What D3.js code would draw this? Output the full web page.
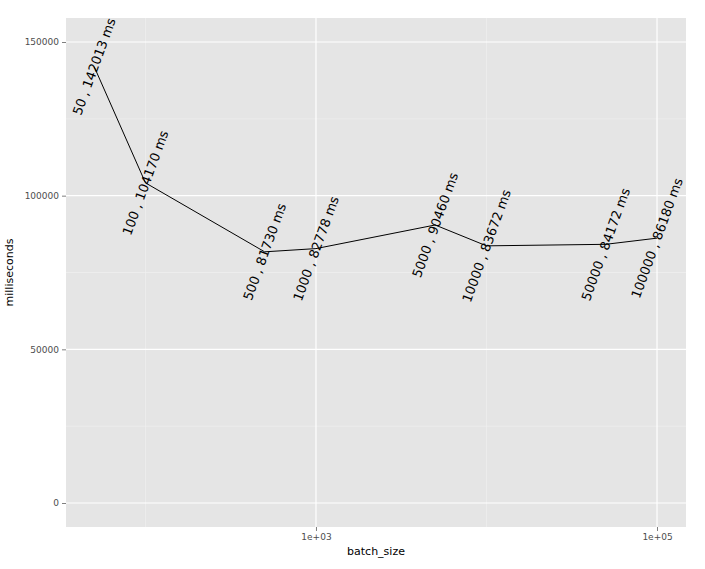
<!DOCTYPE html>
<html><head><meta charset="utf-8">
<script src="https://cdn.jsdelivr.net/npm/d3@7"></script>
<style>body{margin:0;background:#fff}text{font-family:"DejaVu Sans",sans-serif}</style>
</head><body><div id="chart"></div>
<script>
var batchSizes = [50, 100, 500, 1000, 5000, 10000, 50000, 100000];
var millis = [142013, 104170, 81730, 82778, 90460, 83672, 84172, 86180];
var yTicks = [0, 50000, 100000, 150000];
var yMinor = [25000, 75000, 125000];
var xTicks = [1e3, 1e5];
var xMinor = [1e2, 1e4];

var svgWidth = 705, svgHeight = 569;
var margin = {top: 18, right: 19, bottom: 42, left: 66};
var width = svgWidth - margin.left - margin.right;
var height = svgHeight - margin.top - margin.bottom;

var svg = d3.select("#chart").append("svg")
    .attr("width", svgWidth).attr("height", svgHeight);
var g = svg.append("g").attr("transform", `translate(${margin.left},${margin.top})`);

var x = d3.scaleLog().domain([Math.pow(10, 1.534), Math.pow(10, 5.170)]).range([0, width]);
var y = d3.scaleLinear().domain([-7809, 157810]).range([height, 0]);

g.append("rect").attr("width", width).attr("height", height).attr("fill", "#e5e5e5");

// grid
xMinor.forEach(v => g.append("line").attr("x1", x(v)).attr("x2", x(v)).attr("y1", 0).attr("y2", height).attr("stroke", "#f2f2f2").attr("stroke-width", 0.6));
yMinor.forEach(v => g.append("line").attr("y1", y(v)).attr("y2", y(v)).attr("x1", 0).attr("x2", width).attr("stroke", "#f2f2f2").attr("stroke-width", 0.6));
xTicks.forEach(v => g.append("line").attr("x1", x(v)).attr("x2", x(v)).attr("y1", 0).attr("y2", height).attr("stroke", "#fff").attr("stroke-width", 1.2));
yTicks.forEach(v => g.append("line").attr("y1", y(v)).attr("y2", y(v)).attr("x1", 0).attr("x2", width).attr("stroke", "#fff").attr("stroke-width", 1.2));

// axes
var xAxis = g.append("g").attr("transform", `translate(0,${height})`)
    .call(d3.axisBottom(x).tickValues(xTicks).tickSize(4).tickPadding(3).tickFormat(d => d3.format(".0e")(d).replace("e+", "e+0")));
var yAxis = g.append("g")
    .call(d3.axisLeft(y).tickValues(yTicks).tickSize(4).tickPadding(3).tickFormat(d3.format("d")));
[xAxis, yAxis].forEach(a => {
    a.select(".domain").remove();
    a.selectAll("line").attr("stroke", "#7f7f7f");
    a.selectAll("text").attr("fill", "#4d4d4d").style("font-size", "9px");
});

var data = batchSizes.map((b, i) => ({b: b, ms: millis[i]}));

g.append("path").datum(data)
    .attr("fill", "none").attr("stroke", "#000").attr("stroke-width", 1)
    .attr("d", d3.line().x(d => x(d.b)).y(d => y(d.ms)));

g.selectAll(".lbl").data(data).enter().append("text")
    .attr("transform", d => `translate(${x(d.b)},${y(d.ms)}) rotate(-70)`)
    .attr("text-anchor", "middle").attr("dy", "0.35em")
    .style("font-size", "13px").attr("fill", "#000")
    .text(d => `${d.b} , ${d.ms} ms`);

svg.append("text").attr("x", margin.left + width / 2).attr("y", 555)
    .attr("text-anchor", "middle").style("font-size", "11px").text("batch_size");
svg.append("text").attr("transform", `translate(13,${margin.top + height / 2}) rotate(-90)`)
    .attr("text-anchor", "middle").style("font-size", "11px").text("milliseconds");
</script></body></html>
